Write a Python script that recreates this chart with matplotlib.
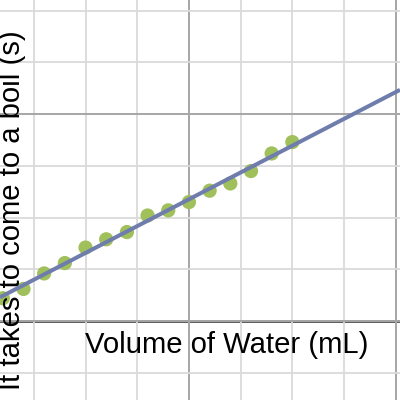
import matplotlib
matplotlib.use('Agg')
import matplotlib.pyplot as plt
from matplotlib.ticker import MultipleLocator
import numpy as np

# volume of water (mL) vs time to boil (s)
volume = [20, 40, 60, 80, 100, 120, 140, 160, 180, 200, 220, 240, 260, 280, 300]
boil_time = [22, 31, 46, 56, 71, 79, 86, 102, 107, 115, 126, 133, 145, 162, 173]

X_LABEL = "Volume of Water (mL)"
Y_LABEL = "Time It takes to come to a boil (s)"

POINT = "#9fc05a"
LINE = "#6f7dad"
MINOR = "#dadada"
MAJOR = "#a6a6a6"

plt.rcParams['font.family'] = ['Liberation Sans', 'DejaVu Sans']

fig = plt.figure(figsize=(4, 4), dpi=100, facecolor='white')
ax = fig.add_axes([0, 0, 1, 1])
ax.set_xlim(17.3, 404.1)
ax.set_ylim(-76.4, 310.4)

ax.xaxis.set_major_locator(MultipleLocator(200))
ax.xaxis.set_minor_locator(MultipleLocator(50))
ax.yaxis.set_major_locator(MultipleLocator(200))
ax.yaxis.set_minor_locator(MultipleLocator(50))
ax.grid(True, which='minor', color=MINOR, linewidth=1.3, zorder=0)
ax.grid(True, which='major', color=MAJOR, linewidth=1.4, zorder=0)
ax.tick_params(which='both', length=0, labelbottom=False, labelleft=False)
for s in ax.spines.values():
    s.set_visible(False)
ax.axhline(0, color='#2b2b2b', linewidth=1.8, zorder=1)

ax.scatter(volume, boil_time, s=105, color=POINT, edgecolors='none', zorder=2)

slope, icpt = np.polyfit(volume, boil_time, 1)
xs = np.array(ax.get_xlim())
ax.plot(xs, slope * xs + icpt, color=LINE, linewidth=2.9, solid_capstyle='butt', zorder=3)

fig.text(85 / 400, (400 - 353) / 400, X_LABEL, ha='left', va='baseline', fontsize=21.1, color='black')
fig.text(-2 / 400, (400 - 30) / 400, Y_LABEL, rotation=90, ha='left', va='top', fontsize=21.1, color='black')

fig.savefig("out.png", dpi=100, facecolor='white')
plt.close(fig)
